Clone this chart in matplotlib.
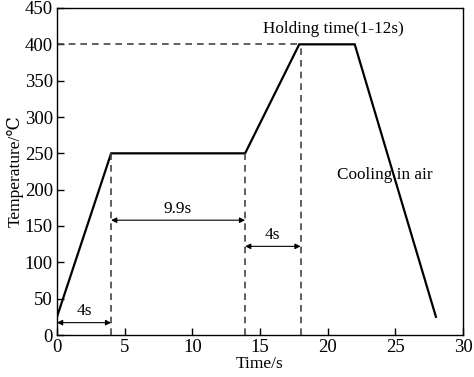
import matplotlib
matplotlib.use("Agg")
import matplotlib.pyplot as plt

plt.rcParams['font.family'] = ['Liberation Serif', 'DejaVu Serif']

time_s = [0, 4, 13.9, 17.9, 22, 28]
temp_c = [25, 250, 250, 400, 400, 25]

guide_x = [4, 13.9, 18]
guide_top = [250, 250, 400]
hold_temp = 400

spans = [(0, 4, 17, "4s", 33), (4, 13.9, 158, "9.9s", 174), (13.9, 18, 122, "4s", 137)]

fig = plt.figure(figsize=(4.74, 3.77), dpi=100)
ax = fig.add_axes([57/474, 42/377, 406/474, 327/377])

ax.plot(time_s, temp_c, color='black', lw=1.6, solid_joinstyle='miter')
for gx, gt in zip(guide_x, guide_top):
    ax.plot([gx, gx], [0, gt], color='#444444', lw=1.2, ls=(0, (4, 3)))
ax.plot([0, 18], [hold_temp, hold_temp], color='#444444', lw=1.2, ls=(0, (4, 3)))

for x0, x1, y, lab, ty in spans:
    ax.annotate('', xy=(x0, y), xytext=(x1, y),
                arrowprops=dict(arrowstyle='<|-|>', color='black', lw=0.8,
                                mutation_scale=8, shrinkA=0, shrinkB=0))
    ax.text((x0 + x1) / 2, ty, lab, ha='center', va='center', fontsize=12.5)

ax.text(20.4, 421, "Holding time(1-12s)", ha='center', va='center', fontsize=12.3)
ax.text(24.2, 220, "Cooling in air", ha='center', va='center', fontsize=12.3)

ax.set_xlim(0, 30)
ax.set_ylim(0, 450)
ax.set_xticks(range(0, 31, 5))
ax.set_yticks(range(0, 451, 50))
ax.tick_params(direction='in', labelsize=13.5, length=5, width=1, pad=3)
for s in ax.spines.values():
    s.set_linewidth(1)
ax.set_xlabel("Time/s", fontsize=12.5, labelpad=0)
ax.set_ylabel("Temperature/\u2103", fontsize=12.5, labelpad=1)

fig.savefig("out.png", dpi=100)
